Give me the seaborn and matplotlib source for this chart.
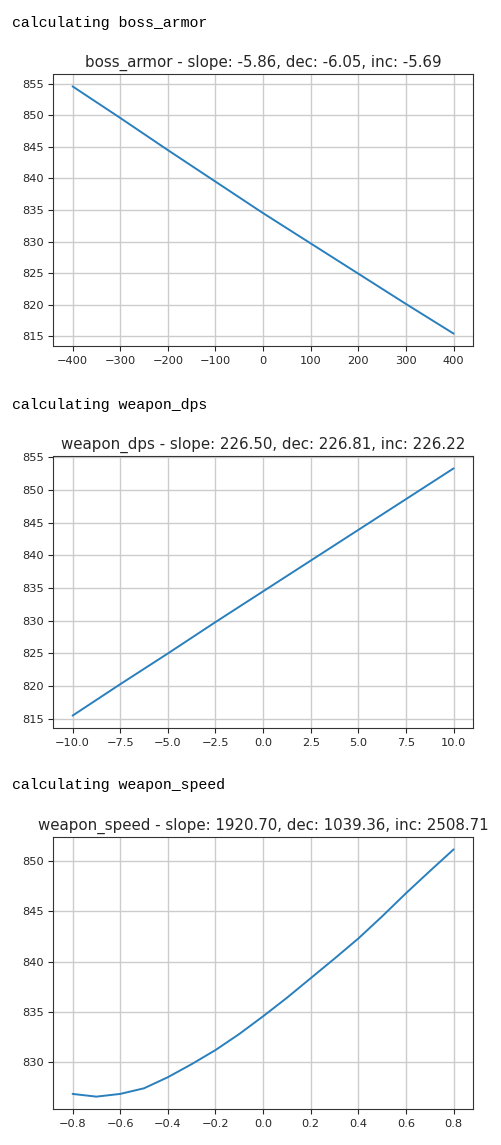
import numpy as np
import pandas as pd
import matplotlib
matplotlib.use("Agg")
import matplotlib.pyplot as plt
import seaborn as sns

# values
armor_x = [-400, -300, -200, -100, 0, 100, 200, 300, 400]
armor_y = [854.6, 849.6, 844.5, 839.5, 834.5, 829.7, 824.9, 820.1, 815.4]

dps_x = [-10.0, -7.5, -5.0, -2.5, 0.0, 2.5, 5.0, 7.5, 10.0]
dps_y = [815.5, 820.3, 825.0, 829.8, 834.5, 839.2, 843.9, 848.6, 853.3]

speed_x = [-0.8, -0.7, -0.6, -0.5, -0.4, -0.3, -0.2, -0.1, 0.0,
           0.1, 0.2, 0.3, 0.4, 0.5, 0.6, 0.7, 0.8]
speed_y = [826.84, 826.57, 826.84, 827.4, 828.5, 829.8, 831.2, 832.8, 834.56,
           836.4, 838.35, 840.3, 842.3, 844.5, 846.8, 849.0, 851.16]

names = ["boss_armor", "weapon_dps", "weapon_speed"]
titles = ["boss_armor - slope: -5.86, dec: -6.05, inc: -5.69",
          "weapon_dps - slope: 226.50, dec: 226.81, inc: 226.22",
          "weapon_speed - slope: 1920.70, dec: 1039.36, inc: 2508.71"]

sns.set_style("ticks")
plt.rcParams['font.family'] = ['DejaVu Sans']

W, H = 502, 1145
fig = plt.figure(figsize=(W / 100, H / 100), dpi=100)

# axes boxes in pixels: (left, top, right, bottom)
boxes = [(53.5, 74, 472.7, 346), (53.5, 456, 472.7, 728), (53.5, 837, 472.7, 1109)]
text_y = [26.5, 409, 789.3]
data = [(armor_x, armor_y), (dps_x, dps_y), (speed_x, speed_y)]

for i in range(3):
    l, t, r, b = boxes[i]
    ax = fig.add_axes([l / W, (H - b) / H, (r - l) / W, (b - t) / H])
    x, y = data[i]
    sns.lineplot(x=x, y=y, ax=ax, color="#2a7fbd", linewidth=1.4)
    ax.grid(True, color="#cccccc", linewidth=1.0)
    ax.set_title(titles[i], fontsize=10.8, color="#262626", pad=5)
    ax.tick_params(labelsize=8.2, colors="#262626", length=3.5, width=0.8)
    for s in ax.spines.values():
        s.set_linewidth(0.8)
        s.set_color("#333333")
    fig.text(12.5 / W, 1 - text_y[i] / H, "calculating " + names[i],
             family="Liberation Mono", fontsize=10.7, va="baseline", ha="left",
             color="black")

ax_list = fig.axes
ax_list[0].set_xticks([-400, -300, -200, -100, 0, 100, 200, 300, 400])
ax_list[1].set_xticks([-10.0, -7.5, -5.0, -2.5, 0.0, 2.5, 5.0, 7.5, 10.0])

fig.savefig("out.png", dpi=100)
